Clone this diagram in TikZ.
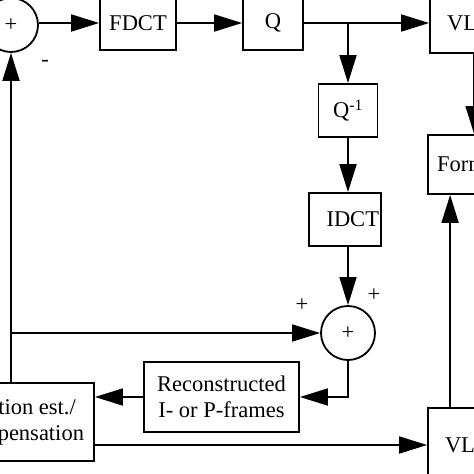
\documentclass[tikz,border=0pt]{standalone}
\usepackage{fontspec}
\setmainfont{Liberation Serif}
\usetikzlibrary{arrows.meta}
\begin{document}
\begin{tikzpicture}[x=1pt,y=-1pt,
  every node/.style={font=\fontsize{22.5}{26}\selectfont},
  blk/.style={draw,line width=1.8pt,rectangle,inner sep=0pt,align=center},
  sumc/.style={draw,line width=1.8pt,circle,inner sep=0pt,minimum size=54pt},
  lbl/.style={inner sep=0pt},
  conn/.style={line width=1.8pt},
  arr/.style={conn,-{Triangle[length=28pt,width=17pt]}}]
\useasboundingbox (0,0) rectangle (474,474);
\clip (0,0) rectangle (474,474);
% nodes
\node[sumc] (sumT) at (11,25) {\raisebox{-6pt}{+}};
\node[blk,minimum width=76pt,minimum height=54pt] (fdct) at (138,23) {FDCT};
\node[blk,minimum width=60pt,minimum height=54pt] (q) at (273,23) {Q};
\node[blk,minimum height=60pt,text width=83pt,inner xsep=17pt,align=left] (vlt) at (488.5,23) {VLC};
\node[blk,minimum width=59pt,minimum height=53pt] (qinv) at (348,110.5) {Q\textsuperscript{-1}};
\node[blk,minimum height=53pt,text width=68pt,inner xsep=2pt,align=right] (idct) at (345,219.5) {IDCT};
\node[sumc] (sumB) at (348,333) {\raisebox{-4pt}{+}};
\node[blk,minimum width=155pt,minimum height=70pt] (recon) at (221.5,397) {Reconstructed\\I- or P-frames};
\node[blk,minimum width=145pt,minimum height=78pt] (est) at (21.5,422) {Motion est./\\compensation};
\node[blk,minimum height=74pt,text width=83pt,inner xsep=17pt,align=left] (vlb) at (486.5,445) {VLC};
\node[blk,minimum height=59pt,text width=100pt,inner xsep=9pt,align=left] (form) at (487,164.5) {Format};
% sign labels
\node[lbl] (mneg) at (45,63) {-};
\node[lbl] (pleft) at (302,305) {+};
\node[lbl] (ptop) at (374,295) {+};
% branch points
\coordinate (bq) at (348,23);
\coordinate (bl) at (sumT.south |- sumB.west);
% connectors
\draw[arr] (sumT.east |- fdct.west) -- (fdct.west);
\draw[arr] (fdct.east) -- (q.west);
\draw[arr] (q.east) -- (vlt.west);
\draw[arr] (bq) -- (qinv.north);
\draw[arr] (qinv.south) -- (qinv.south |- idct.north);
\draw[arr] (qinv.south |- idct.south) -- (sumB.north);
\draw[arr] (sumB.south) |- (recon.east);
\draw[arr] (recon.west) -- (recon.west -| est.east);
\draw[arr] (sumT.south |- est.north) -- (sumT.south);
\draw[arr] (bl) -- (sumB.west);
\draw[arr] (est.east |- vlb.west) -- (vlb.west);
\draw[arr] ([xshift=23pt]vlb.north west) -- ([xshift=23pt]vlb.north west |- form.south);
\draw[arr] ([xshift=45pt]vlt.south west) -- ([xshift=45pt]vlt.south west |- form.north);
\end{tikzpicture}
\end{document}
